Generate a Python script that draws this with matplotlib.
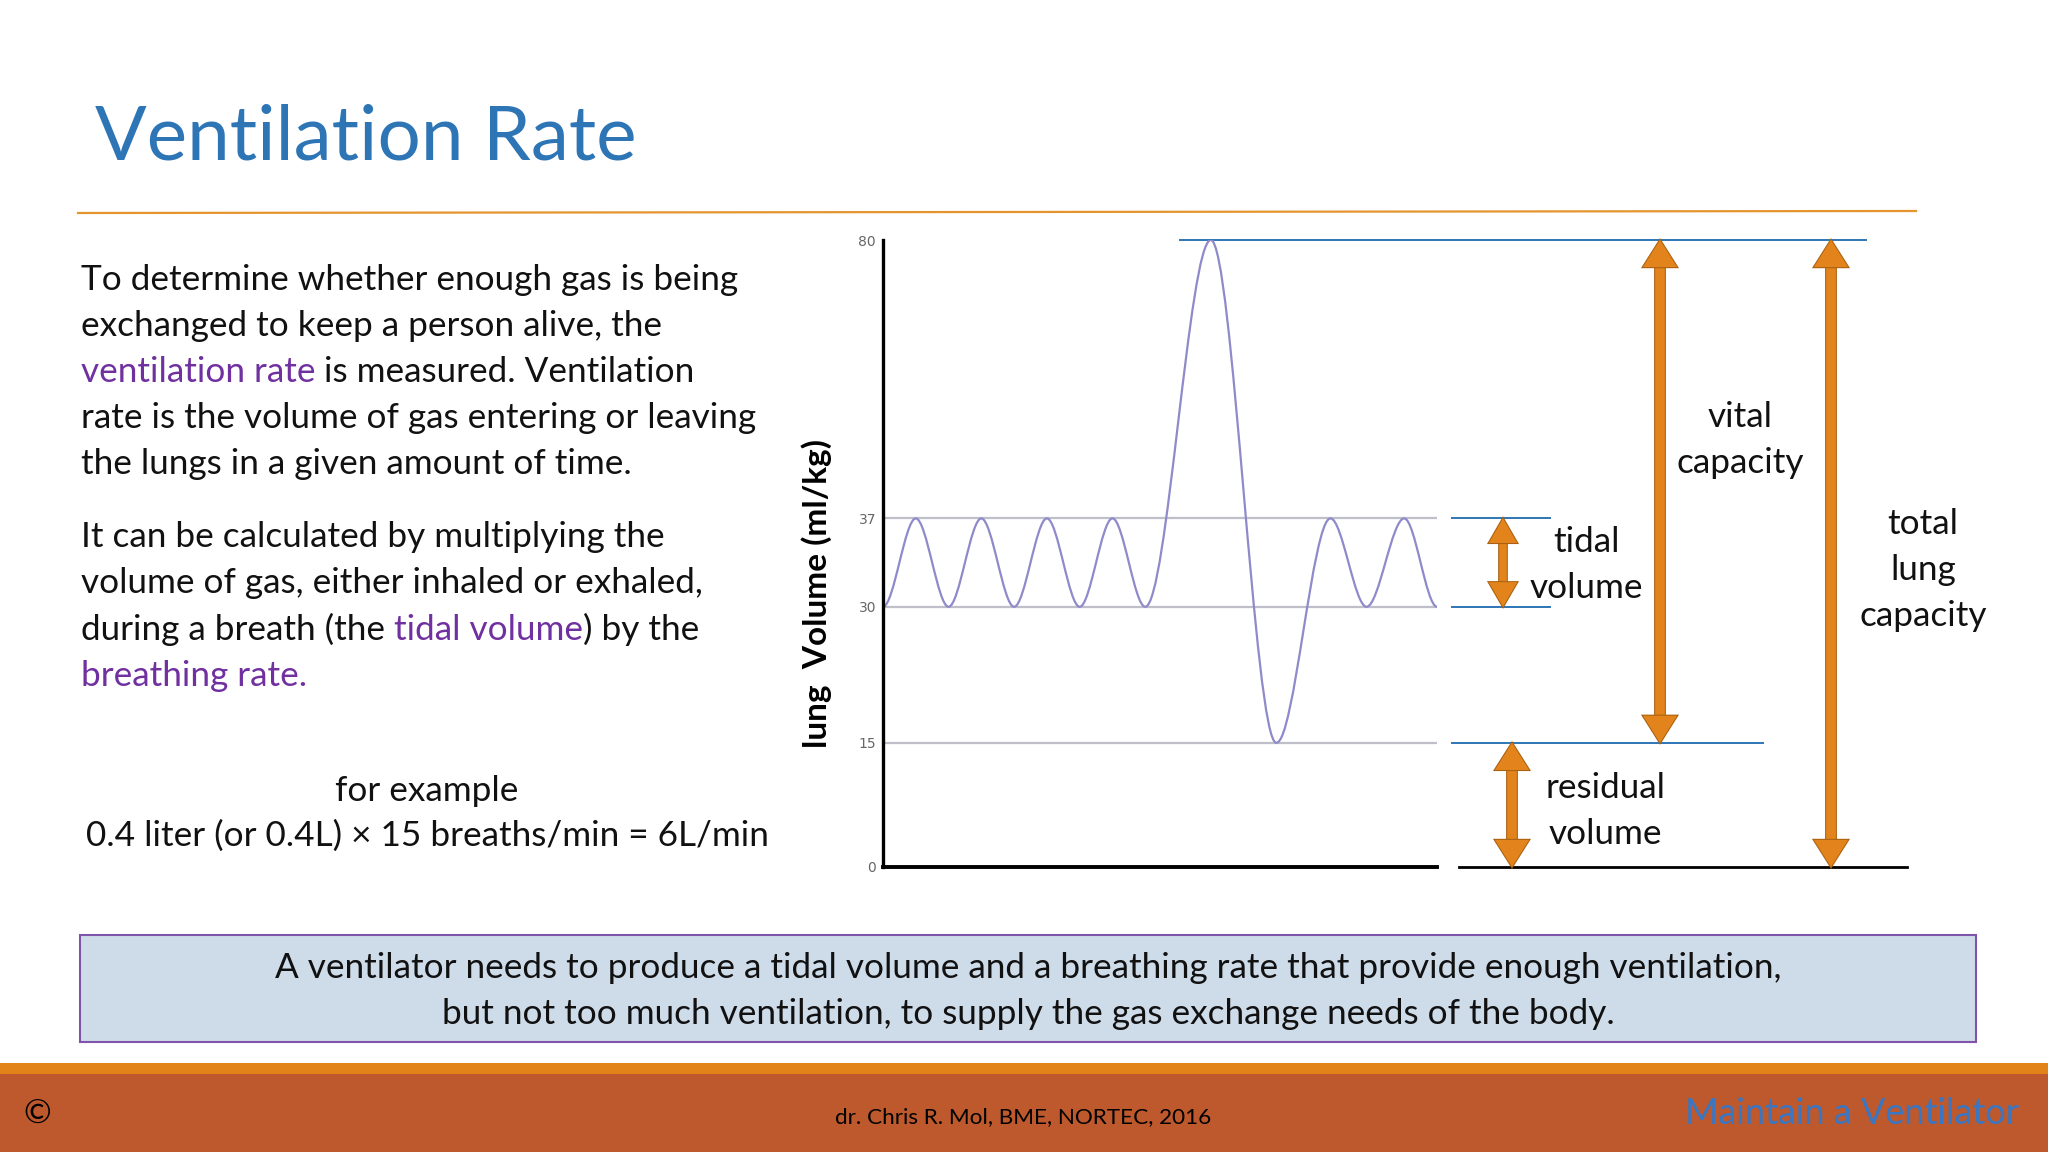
"""
slide: ventilation rate with a lung volume trace and its capacities
"""

import matplotlib
matplotlib.use("Agg")
import matplotlib.pyplot as plt
import matplotlib.patches as mpatches
import matplotlib.patheffects as pe
from matplotlib.path import Path
from matplotlib.transforms import blended_transform_factory
import numpy as np

plt.rcParams['font.family'] = ['Lato', 'DejaVu Sans']

# breath trace, extrema only (time in s, volume in ml/kg)
breath_time = [0, 2, 4, 6, 8, 10, 12, 14, 16, 20, 24, 27.3, 29.5, 31.8, 33.8]
breath_volume = [30, 37, 30, 37, 30, 37, 30, 37, 30, 80, 15, 37, 30, 37, 30]

tick_values = [0, 15, 30, 37, 80]
tick_labels = ["0", "15", "30", "37", "80"]
# where each tick sits along the (schematic, non linear) axis, in % of height
tick_share = [0, 19.8, 41.5, 55.6, 100]
ref_levels = [15, 30, 37]

tidal_top, tidal_bottom = 37, 30
residual_level = 15
total_level = 80

W, H = 2048, 1152
BLUE = "#2E75B6"
PURPLE = "#7030A0"
ORANGE = "#E2841B"
TEXT = "#111111"

fig = plt.figure(figsize=(W / 100, H / 100), dpi=100)
fig.patch.set_facecolor("white")

# full-slide axes in pixel coords (y down)
slide = fig.add_axes([0, 0, 1, 1])
slide.set_xlim(0, W)
slide.set_ylim(H, 0)
slide.set_autoscale_on(False)
slide.axis("off")

renderer = fig.canvas.get_renderer()


def text_width(s, size, weight="normal"):
    t = slide.text(0, 0, s, fontsize=size, weight=weight)
    w = t.get_window_extent(renderer).width
    t.remove()
    return w


def rich_line(x, y, parts, size):
    """draw one line made of differently coloured pieces, sharing a baseline"""
    done = ""
    for s, c in parts:
        done += s
        piece = s.strip()
        start = x + text_width(done.rstrip(), size) - text_width(piece, size)
        slide.text(start, y, piece, fontsize=size, color=c, va="baseline", ha="left")


# title and rule
slide.text(95, 159, "Ventilation Rate", fontsize=55, color=BLUE, va="baseline")
slide.plot([78, 1916], [213, 211], color="#E5952E", lw=1.6)

body_size = 25.3
para1 = [
    [("To determine whether enough gas is being", TEXT)],
    [("exchanged to keep a person alive, the", TEXT)],
    [("ventilation rate", PURPLE), (" is measured. Ventilation", TEXT)],
    [("rate is the volume of gas entering or leaving", TEXT)],
    [("the lungs in a given amount of time.", TEXT)],
]
para2 = [
    [("It can be calculated by multiplying the", TEXT)],
    [("volume of gas, either inhaled or exhaled,", TEXT)],
    [("during a breath (the ", TEXT), ("tidal volume", PURPLE), (") by the", TEXT)],
    [("breathing rate.", PURPLE)],
]
for i, line in enumerate(para1):
    rich_line(81, 290 + i * 46, line, body_size)
for i, line in enumerate(para2):
    rich_line(81, 547 + i * 46.3, line, body_size)

slide.text(427, 801, "for example", fontsize=body_size, color=TEXT, ha="center", va="baseline")
slide.text(427, 846, "0.4 liter (or 0.4L) \u00d7 15 breaths/min = 6L/min", fontsize=body_size,
           color=TEXT, ha="center", va="baseline")

# lung volume chart
fwd = lambda v: np.interp(v, tick_values, tick_share)
inv = lambda p: np.interp(p, tick_share, tick_values)

ax = fig.add_axes([883 / W, 1 - 867 / H, (1437 - 883) / W, (867 - 240) / H])
ax.patch.set_alpha(0)
ax.set_yscale("function", functions=(fwd, inv))

for lvl in ref_levels:
    ax.axhline(lvl, color="#BFBFC9", lw=1.6, zorder=1)

verts = [(breath_time[0], breath_volume[0])]
codes = [Path.MOVETO]
for t0, v0, t1, v1 in zip(breath_time[:-1], breath_volume[:-1], breath_time[1:], breath_volume[1:]):
    dt = t1 - t0
    verts += [(t0 + dt / 3, v0), (t1 - dt / 3, v1), (t1, v1)]
    codes += [Path.CURVE4] * 3
ax.add_patch(mpatches.PathPatch(Path(verts, codes), fill=False, edgecolor="#8F8AC9", lw=1.6, zorder=2))

ax.set_xlim(0, breath_time[-1])
ax.set_ylim(0, 80)
ax.set_autoscale_on(False)
ax.set_xticks([])
ax.set_yticks(tick_values, tick_labels)
ax.tick_params(axis="y", length=0, pad=5, labelsize=10, labelcolor="#666666")
for lab in ax.get_yticklabels():
    lab.set_fontfamily("DejaVu Sans")
for side in ["top", "right"]:
    ax.spines[side].set_visible(False)
ax.spines["left"].set_linewidth(2.4)
ax.spines["bottom"].set_linewidth(2.8)

fig.text(817 / W, 1 - 593 / H, "lung  Volume (ml/kg)", rotation=90, fontsize=24,
         weight="bold", ha="center", va="center", color="black")

# capacity guides: x from the slide, y from the chart
trans = blended_transform_factory(slide.transData, ax.transData)
guides = [(total_level, 1180, 1866), (tidal_top, 1452, 1550), (tidal_bottom, 1452, 1550),
          (residual_level, 1452, 1763)]
for lvl, x0, x1 in guides:
    slide.plot([x0, x1], [lvl, lvl], transform=trans, color=BLUE, lw=1.4, clip_on=False)
slide.plot([1459, 1907], [0, 0], transform=trans, color="black", lw=2, clip_on=False)

arrows = [(1503, tidal_bottom, tidal_top, 5.5, 0.55),
          (1512, 0, residual_level, 7, 0.6),
          (1660, residual_level, total_level, 7, 0.6),
          (1831, 0, total_level, 7, 0.6)]
for x, lo, hi, lw, hw in arrows:
    slide.annotate("", xy=(x, hi), xytext=(x, lo), xycoords=trans, textcoords=trans,
                   arrowprops=dict(arrowstyle="<|-|>,head_length=0.95,head_width=%.2f" % hw,
                                   color=ORANGE, lw=lw, shrinkA=0, shrinkB=0, mutation_scale=10,
                                   joinstyle="miter", capstyle="butt",
                                   path_effects=[pe.withStroke(linewidth=lw + 1.5, foreground="#A9600F")]))

labels = [(1740, 427, ["vital", "capacity"]),
          (1586, 552, ["tidal", "volume"]),
          (1923, 534, ["total", "lung", "capacity"]),
          (1605, 798, ["residual", "volume"])]
for x, y, lines in labels:
    for i, s in enumerate(lines):
        slide.text(x, y + i * 46, s, fontsize=body_size, color=TEXT, ha="center", va="baseline")

# take-home box
slide.add_patch(mpatches.Rectangle((80, 935), 1896, 107, facecolor="#CEDBE9",
                                   edgecolor="#7E55A8", lw=1.5))
slide.text(1028, 978, "A ventilator needs to produce a tidal volume and a breathing rate that provide enough ventilation,",
           fontsize=body_size, color=TEXT, ha="center", va="baseline")
slide.text(1028, 1024, "but not too much ventilation, to supply the gas exchange needs of the body.",
           fontsize=body_size, color=TEXT, ha="center", va="baseline")

# footer
slide.add_patch(mpatches.Rectangle((0, 1063), W, 11, facecolor="#E2831A", edgecolor="none"))
slide.add_patch(mpatches.Rectangle((0, 1074), W, 78, facecolor="#BD592D", edgecolor="none"))
slide.text(23, 1115, "\u00a9", fontsize=24, color="black", va="center", ha="left")
slide.text(1023, 1117, "dr. Chris R. Mol, BME, NORTEC, 2016", fontsize=16.2, color="black",
           ha="center", va="center")
slide.text(2019, 1113, "Maintain a Ventilator", fontsize=26, color="#3A76C2", ha="right", va="center")

fig.savefig("out.png", dpi=100)
